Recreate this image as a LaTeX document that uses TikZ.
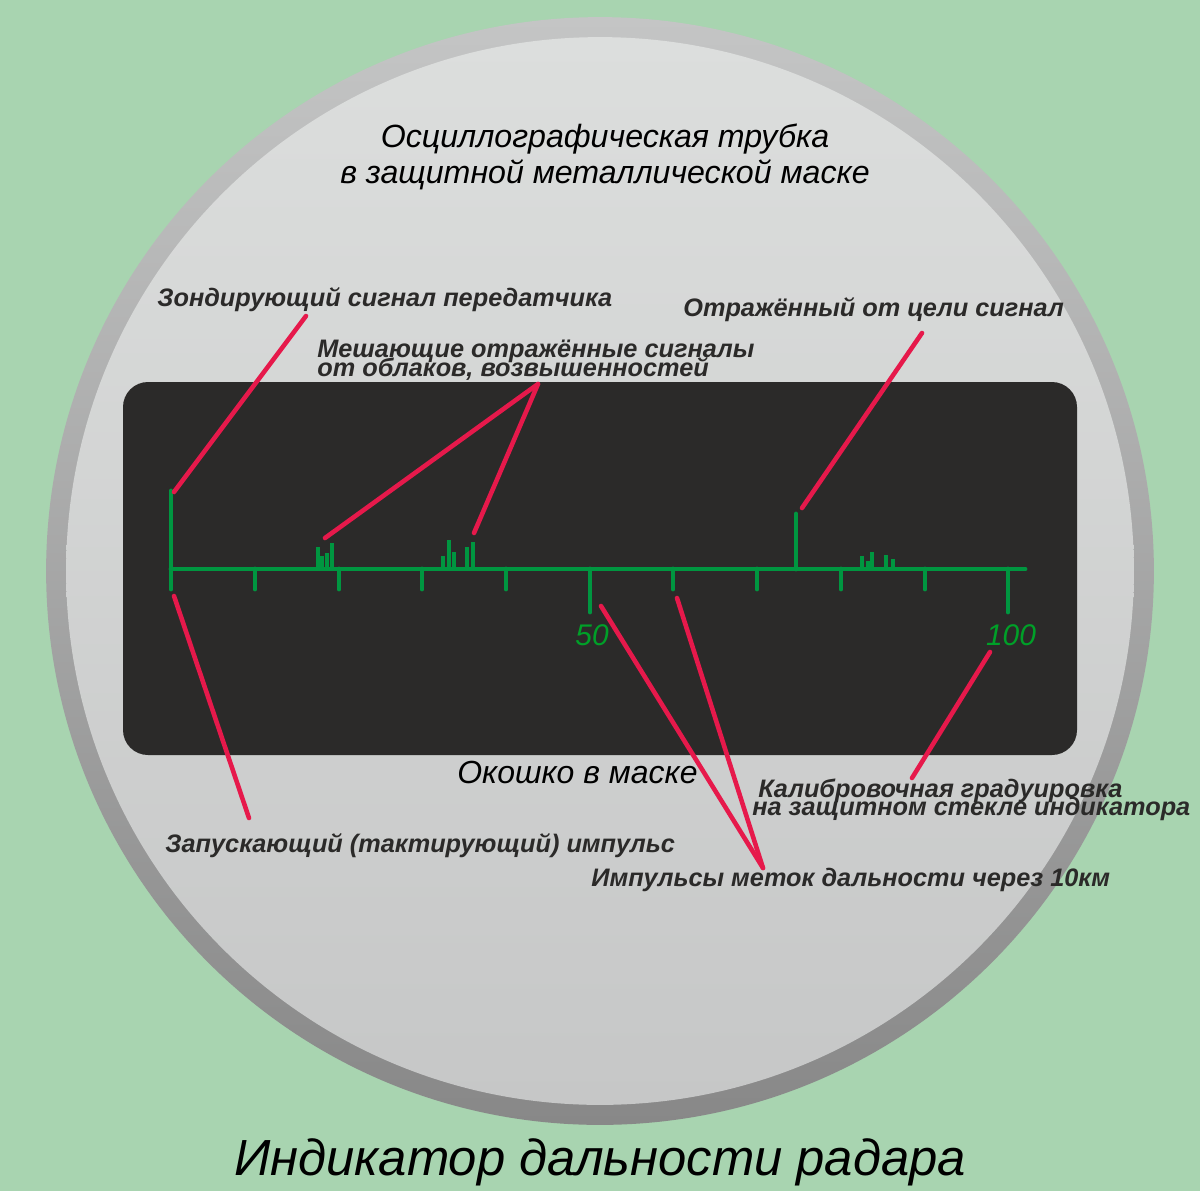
\documentclass[tikz,border=0pt]{standalone}
\usepackage{fontspec}
\setmainfont{Liberation Sans}
\definecolor{bgGreen}{RGB}{168,212,176}
\definecolor{ringTop}{RGB}{196,197,197}
\definecolor{ringBottom}{RGB}{136,136,136}
\definecolor{faceTop}{RGB}{220,222,221}
\definecolor{faceBottom}{RGB}{198,199,199}
\definecolor{windowDark}{RGB}{43,42,41}
\definecolor{scopeGreen}{RGB}{0,150,64}
\definecolor{numberGreen}{RGB}{0,160,40}
\definecolor{pointerPink}{RGB}{230,25,75}
\definecolor{labelGray}{RGB}{43,42,41}

\begin{document}
\begin{tikzpicture}[x=0.02cm,y=-0.02cm,
    trace/.style={draw=scopeGreen, line width=2.8pt, line cap=round},
    blip/.style={draw=scopeGreen, line width=2.2pt},
    pointer/.style={draw=pointerPink, line width=2.6pt, line cap=round},
    label/.style={font=\fontsize{14.4}{10.6}\selectfont\bfseries\itshape, text=labelGray, inner sep=0pt, align=left, anchor=base west},
    caption/.style={font=\fontsize{18.3}{20.4}\selectfont\itshape, text=black, inner sep=0pt},
    scale number/.style={font=\fontsize{17}{17}\selectfont\itshape, text=numberGreen, inner sep=0pt, anchor=base}]
    % background and tube face
    \fill[bgGreen] (0,0) rectangle (1200,1191);
    \useasboundingbox (0,0) rectangle (1200,1191);
    \shade[top color=ringTop, bottom color=ringBottom] (600,571) circle[radius=11.08cm];
    \shade[top color=faceTop, bottom color=faceBottom] (600,571) circle[radius=10.68cm];
    % the window in the mask
    \fill[windowDark, rounded corners=0.5cm] (123,382) rectangle (1077,755);
    % the sweep line and its ticks
    \coordinate (sweep start) at (171,569);
    \coordinate (sweep end) at (1025,569);
    \draw[trace] (sweep start) -- (sweep end);
    \foreach \tx/\ty in {171/589, 255/589, 339/589, 422/589, 506/589, 590/612,
                         673/589, 757/589, 841/589, 925/589, 1008/612}
        \draw[trace] (\tx,569) -- (\tx,\ty);
    % the probe pulse and the target echo
    \draw[trace] (171,569) -- (171,491);
    \draw[trace] (796,569) -- (796,514);
    % clutter echoes
    \foreach \bx/\by in {318/547, 322/556, 327/553, 332/543,
                         443/556, 449/540, 454/552, 467/547, 473/542,
                         862/556, 868/561, 872/552, 886/555, 893/559}
        \draw[blip] (\bx,569) -- (\bx,\by);
    % scale numbers
    \node[scale number] (mark50) at (592,645) {50};
    \node[scale number] (mark100) at (1011,645) {100};
    % the texts
    \node[caption, align=center, anchor=base] (tube) at (605,183)
        {Осциллографическая трубка\\в защитной металлической маске};
    \node[label] (probe label) at (157,306) {Зондирующий сигнал передатчика};
    \node[label] (clutter label) at (317,376)
        {Мешающие отражённые сигналы\\[-4pt]от облаков, возвышенностей};
    \node[label] (echo label) at (683,316) {Отражённый от цели сигнал};
    \node[caption, anchor=base west, font=\fontsize{18.2}{18}\selectfont\itshape] (window label) at (457,783) {Окошко в маске};
    \node[label] (calib label) at (758,815)
        {Калибровочная градуировка\\[-4.5pt]\hspace*{-3.4pt}на защитном стекле индикатора};
    \node[label] (trigger label) at (165,852) {Запускающий (тактирующий) импульс};
    \node[label] (range label) at (591,886) {Импульсы меток дальности через 10км};
    \node[caption, anchor=base west, font=\fontsize{28.9}{30}\selectfont\itshape] (title) at (234,1175)
        {Индикатор дальности радара};
    % pointer ends
    \coordinate (probe from) at (306,316);
    \coordinate (probe to) at (174,492);
    \coordinate (clutter from) at (538,384);
    \coordinate (clutter to a) at (325,538);
    \coordinate (clutter to b) at (474,533);
    \coordinate (echo from) at (922,333);
    \coordinate (echo to) at (802,508);
    \coordinate (trigger from) at (249,818);
    \coordinate (trigger to) at (174,596);
    \coordinate (range from) at (763,868);
    \coordinate (range to a) at (601,606);
    \coordinate (range to b) at (677,598);
    \coordinate (calib from) at (912,778);
    \coordinate (calib to) at (990,652);
    % draw the pointers
    \draw[pointer] (probe from) -- (probe to);
    \draw[pointer] (clutter from) -- (clutter to a);
    \draw[pointer] (clutter from) -- (clutter to b);
    \draw[pointer] (echo from) -- (echo to);
    \draw[pointer] (trigger from) -- (trigger to);
    \draw[pointer] (range from) -- (range to a);
    \draw[pointer] (range from) -- (range to b);
    \draw[pointer] (calib from) -- (calib to);
\end{tikzpicture}
\end{document}
